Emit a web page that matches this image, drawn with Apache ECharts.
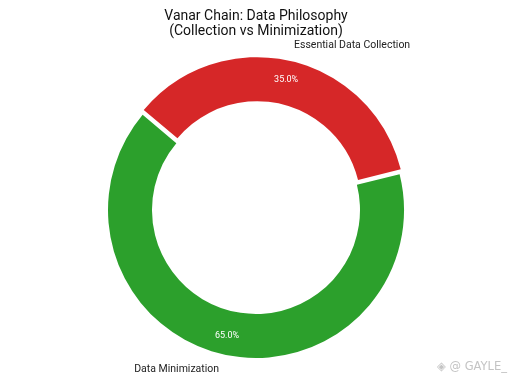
<!DOCTYPE html>
<html>
<head>
<meta charset="utf-8">
<script src="https://cdn.jsdelivr.net/npm/echarts@6/dist/echarts.min.js"></script>
<style>html,body{margin:0;padding:0;background:#fff}#c{width:512px;height:384px}</style>
</head>
<body>
<div id="c"></div>
<script>
const categories = ['Essential Data Collection', 'Data Minimization'];
const values = [35, 65];
const colors = ['#d62728', '#2ca02c'];
const titleText = 'Vanar Chain: Data Philosophy\n(Collection vs Minimization)';

const chart = echarts.init(document.getElementById('c'), null, {renderer: 'canvas'});
const baseCenter = [256, 210];
const explodeDist = 5;
const startAngle = 14;
const total = values.reduce((a, b) => a + b, 0);
const midAngle = (startAngle + values[0] / total * 360 / 2) * Math.PI / 180;
const redCenter = [baseCenter[0] + explodeDist * Math.cos(midAngle), baseCenter[1] - explodeDist * Math.sin(midAngle)];

function makeSeries(visibleIdx, center, labelKind) {
  return {
    type: 'pie',
    radius: [104, 148],
    center: center,
    startAngle: startAngle,
    clockwise: false,
    avoidLabelOverlap: false,
    silent: true,
    animation: false,
    labelLine: {show: false, length: 16, length2: 0},
    data: categories.map((name, i) => {
      const vis = i === visibleIdx;
      return {
        name: name,
        value: values[i],
        itemStyle: {color: vis && labelKind === 'name' ? colors[i] : 'rgba(0,0,0,0)'},
        label: {show: vis}
      };
    }),
    label: labelKind === 'name' ? {
      position: 'outside',
      formatter: '{b}',
      color: '#222',
      fontSize: 10.5,
      fontFamily: 'Roboto',
      distanceToLabelLine: 0
    } : {
      position: 'inside',
      formatter: p => p.percent.toFixed(1) + '%',
      color: '#fff',
      fontSize: 9,
      fontFamily: 'Roboto'
    }
  };
}

const option = {
  backgroundColor: '#fff',
  title: {
    text: titleText,
    left: 'center',
    top: 4,
    textStyle: {fontSize: 14, fontWeight: 'normal', color: '#111', fontFamily: 'Roboto', lineHeight: 15}
  },
  graphic: [{
    type: 'text',
    right: 5,
    top: 361,
    style: {text: '◈ @ GAYLE_', fill: '#c4c4c4', fontSize: 11.5, fontFamily: 'DejaVu Sans'}
  }],
  series: [
    makeSeries(1, baseCenter, 'name'),
    makeSeries(0, redCenter, 'name'),
    makeSeries(1, baseCenter, 'pct'),
    makeSeries(0, redCenter, 'pct')
  ]
};
chart.setOption(option);
</script>
</body>
</html>
